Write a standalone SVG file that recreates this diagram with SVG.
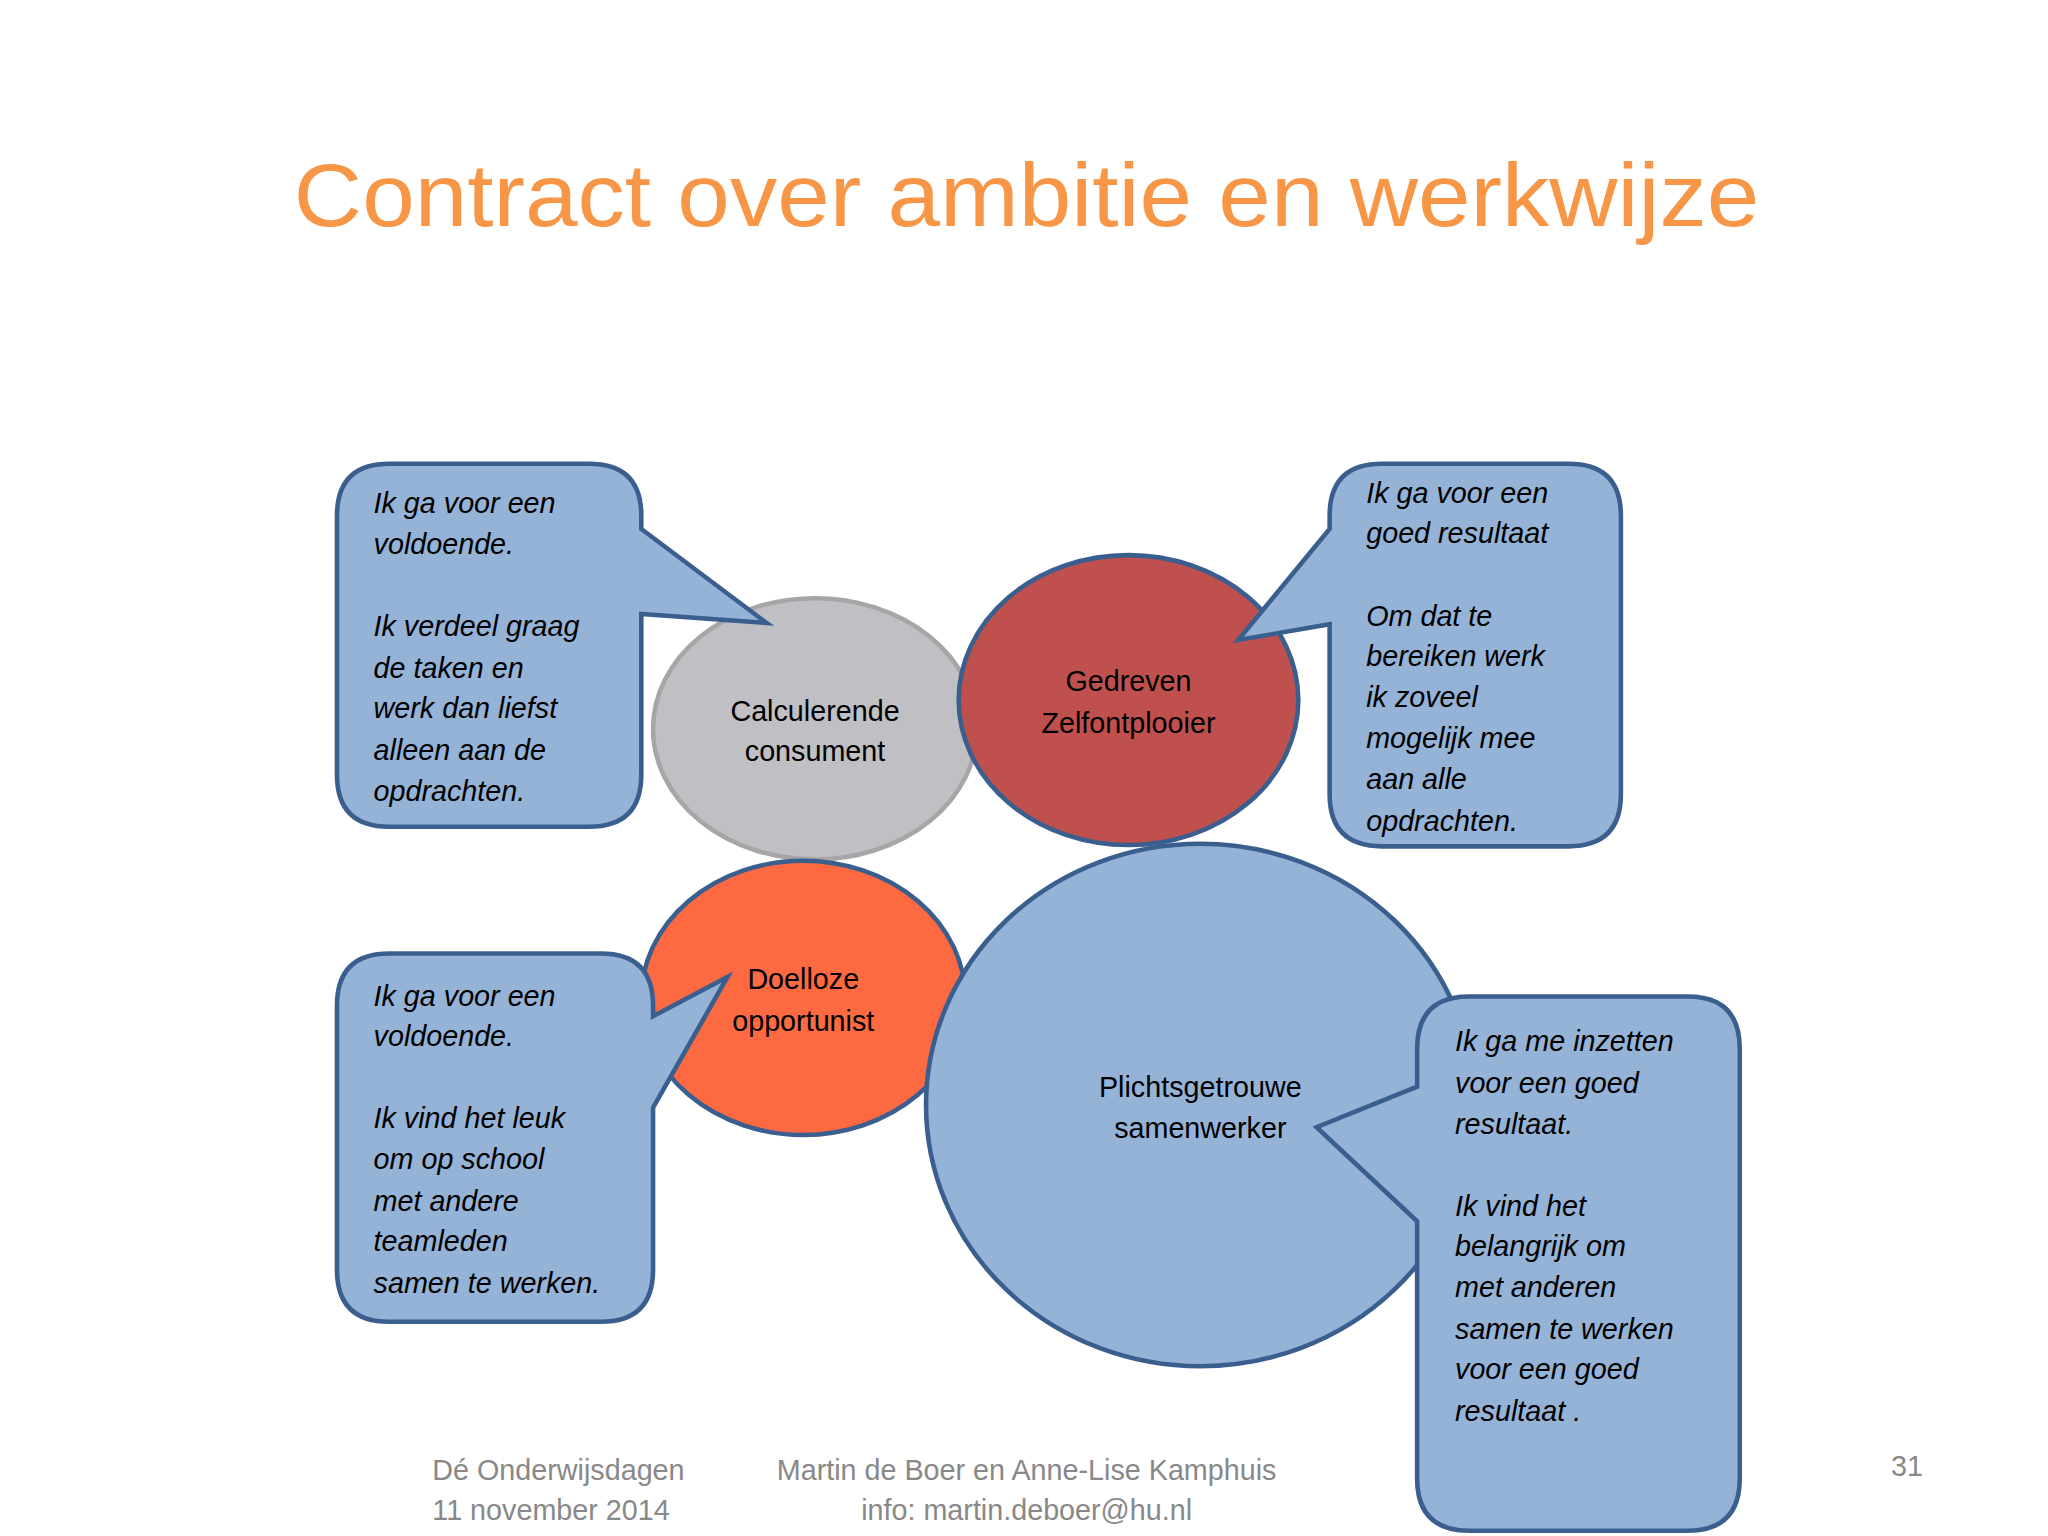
<svg xmlns="http://www.w3.org/2000/svg" width="2048" height="1536" viewBox="0 0 2048 1536">
<style>
.t{font-family:"Liberation Sans",Arial,sans-serif;font-size:22px;fill:#000}
.i{font-style:italic}
.c{text-anchor:middle}
.f{font-family:"Liberation Sans",Arial,sans-serif;font-size:22px;fill:#888}
.co{fill:#95b3d7;stroke:#3a5f8f;stroke-width:3.5}
</style>
<rect width="2048" height="1536" fill="#fff"/>
<g transform="scale(1.30612)">
<text x="786" y="173" text-anchor="middle" textLength="1122" lengthAdjust="spacingAndGlyphs" style="font-family:'Liberation Sans',Arial,sans-serif;font-size:68px;fill:#f79646">Contract over ambitie en werkwijze</text>
<g id="calc"><ellipse cx="624" cy="558" rx="124" ry="100" fill="#c0bfc4" stroke="#a6a6a6" stroke-width="3.5"/>
<text class="t c" x="624" y="552">Calculerende</text><text class="t c" x="624" y="583">consument</text></g>
<g id="gedreven"><ellipse cx="864" cy="536" rx="130" ry="111" fill="#c0504d" stroke="#3a5f8f" stroke-width="3.5"/>
<text class="t c" x="864" y="529">Gedreven</text><text class="t c" x="864" y="561">Zelfontplooier</text></g>
<g id="doelloze"><ellipse cx="615" cy="764" rx="124" ry="105" fill="#fd6a42" stroke="#3a5f8f" stroke-width="3.5"/>
<text class="t c" x="615" y="757">Doelloze</text><text class="t c" x="615" y="789">opportunist</text></g>
<g id="plicht"><ellipse cx="919" cy="846" rx="210" ry="200" fill="#95b3d7" stroke="#3a5f8f" stroke-width="3.5"/>
<text class="t c" x="919" y="840">Plichtsgetrouwe</text><text class="t c" x="919" y="871">samenwerker</text></g>
<g id="callouts">
<g id="c1"><path class="co" d="M298,355 H451 Q491,355 491,395 V405 L587,477 L491,470 V593 Q491,633 451,633 H298 Q258,633 258,593 V395 Q258,355 298,355 Z"/>
<text class="t i" x="286"><tspan x="286" y="393">Ik ga voor een</tspan><tspan x="286" y="424">voldoende.</tspan><tspan x="286" y="487">Ik verdeel graag</tspan><tspan x="286" y="519">de taken en</tspan><tspan x="286" y="550">werk  dan liefst</tspan><tspan x="286" y="582">alleen aan de</tspan><tspan x="286" y="613">opdrachten.</tspan></text></g>
<g id="c2"><path class="co" d="M1058,355 H1201 Q1241,355 1241,395 V608 Q1241,648 1201,648 H1058 Q1018,648 1018,608 V478 L948,490 L1018,405 V395 Q1018,355 1058,355 Z"/>
<text class="t i"><tspan x="1046" y="385">Ik ga  voor een</tspan><tspan x="1046" y="416">goed resultaat</tspan><tspan x="1046" y="479">Om dat te</tspan><tspan x="1046" y="510">bereiken werk</tspan><tspan x="1046" y="541">ik zoveel</tspan><tspan x="1046" y="573">mogelijk mee</tspan><tspan x="1046" y="604">aan alle</tspan><tspan x="1046" y="636">opdrachten.</tspan></text></g>
<g id="c3"><path class="co" d="M298,730 H460 Q500,730 500,770 V778 L557,748 L500,848 V972 Q500,1012 460,1012 H298 Q258,1012 258,972 V770 Q258,730 298,730 Z"/>
<text class="t i"><tspan x="286" y="770">Ik ga voor een</tspan><tspan x="286" y="801">voldoende.</tspan><tspan x="286" y="864">Ik vind het leuk</tspan><tspan x="286" y="895">om op school</tspan><tspan x="286" y="927">met andere</tspan><tspan x="286" y="958">teamleden</tspan><tspan x="286" y="990">samen te werken.</tspan></text></g>
<g id="c4"><path class="co" d="M1125,763 H1292 Q1332,763 1332,803 V1132 Q1332,1172 1292,1172 H1125 Q1085,1172 1085,1132 V935 L1008,863 L1085,832 V803 Q1085,763 1125,763 Z"/>
<text class="t i"><tspan x="1114" y="805">Ik ga me inzetten</tspan><tspan x="1114" y="837">voor een goed</tspan><tspan x="1114" y="868">resultaat.</tspan><tspan x="1114" y="931">Ik vind het</tspan><tspan x="1114" y="962">belangrijk  om</tspan><tspan x="1114" y="993">met anderen</tspan><tspan x="1114" y="1025">samen te werken</tspan><tspan x="1114" y="1056">voor een goed</tspan><tspan x="1114" y="1088">resultaat .</tspan></text></g>
</g>
<g id="footer">
<text class="f" x="331" y="1133">Dé Onderwijsdagen</text>
<text class="f" x="331" y="1164">11 november 2014</text>
<text class="f" x="786" y="1133" text-anchor="middle">Martin de Boer en Anne-Lise Kamphuis</text>
<text class="f" x="786" y="1164" text-anchor="middle">info:  martin.deboer@hu.nl</text>
<text class="f" x="1460" y="1130" text-anchor="middle">31</text>
</g>
</g>
</svg>
